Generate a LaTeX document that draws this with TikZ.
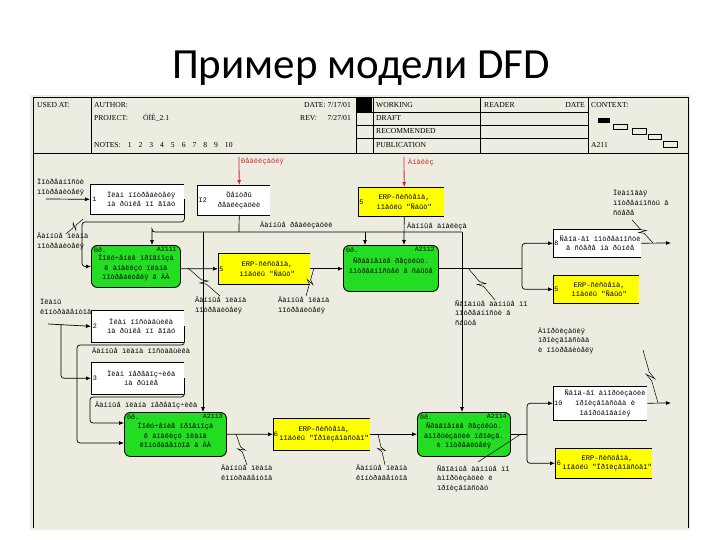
\documentclass[tikz,border=0pt]{standalone}
\usepackage{fontspec}
\setmainfont{Liberation Serif}
\newfontfamily\titlefont{Carlito}
\newfontfamily\monof{Liberation Mono}
\usetikzlibrary{arrows.meta,calc}
\definecolor{bgc}{HTML}{ECECE1}
\definecolor{procg}{HTML}{22DD22}
\definecolor{erpy}{HTML}{FFFF00}
\definecolor{flowred}{HTML}{D02828}
\newcommand\mtxt{\monof\fontsize{7.1}{9.6}\selectfont}
\newcommand\squig[2]{\draw[squigl] (#1) -- ($(#1)!0.42!(#2)$) -- ($(#1)!0.56!(#2)!3.5pt!90:(#2)$) -- ($(#1)!0.44!(#2)!3.5pt!-90:(#2)$) -- ($(#1)!0.58!(#2)$) -- (#2);}
\tikzset{
  hdr/.style={font=\fontsize{7.6}{9}\selectfont, inner sep=0pt, anchor=base west},
  lbl/.style={font=\mtxt, align=left, inner sep=0pt, anchor=north west},
  proc/.style={draw=black, line width=0.9pt, fill=procg, rounded corners=6pt, inner sep=0pt},
  ptag/.style={font=\monof\fontsize{6.6}{8}\selectfont, inner sep=0pt},
  ptxt/.style={font=\monof\fontsize{7}{9.4}\selectfont, align=center, inner sep=0pt},
  storeb/.style={fill=white, inner sep=0pt, font=\mtxt, align=center, anchor=north west},
  storey/.style={storeb, fill=erpy},
  numbx/.style={draw=black, line width=0.6pt, fill=white, inner sep=0pt, font=\monof\fontsize{6.8}{8}\selectfont, anchor=north west},
  numby/.style={numbx, fill=erpy},
  stl/.style={line width=0.7pt},
  flow/.style={draw=black, line width=0.7pt, rounded corners=3pt, -{Latex[length=5pt,width=4pt]}},
  plain/.style={draw=black, line width=0.7pt, rounded corners=3pt},
  redflow/.style={draw=flowred, line width=0.8pt, -{Latex[length=5pt,width=4pt]}},
  squigl/.style={draw=black, line width=0.5pt},
  frame/.style={draw=black, line width=0.8pt}
}
\begin{document}
\begin{tikzpicture}[x=1pt,y=-1pt]
\useasboundingbox (0,0) rectangle (720,540);
\fill[white] (0,0) rectangle (720,540);
\fill[bgc] (30,95) rectangle (690,530);
% title
\node[font=\titlefont\fontsize{43}{46}\selectfont, inner sep=0pt] (title) at (361,68) {Пример модели DFD};
% frame
\draw[frame] (33,528) -- (33,97) -- (688,97) -- (688,528);
\draw[frame] (33,153) -- (688,153);
\draw[frame] (91,97) -- (91,153);
\draw[frame] (356,97) -- (356,153);
\draw[frame] (373,97) -- (373,153);
\draw[frame] (480,97) -- (480,153);
\draw[frame] (588,97) -- (588,153);
\draw[frame] (356,112) -- (588,112) (356,125) -- (588,125) (356,138) -- (588,138);
\fill[black] (357,98) rectangle (372,112);
% header text
\node[hdr] (usedat) at (37,108) {USED AT:};
\node[hdr] (author) at (94,108) {AUTHOR:};
\node[hdr] (project) at (94,121) {PROJECT:};
\node[hdr] (projv) at (143,121) {ÓÏÈ\_2.1};
\node[hdr, anchor=base east] (date1) at (351,108) {DATE: 7/17/01};
\node[hdr] (rev) at (300,121) {REV:};
\node[hdr, anchor=base east] (revv) at (351,121) {7/27/01};
\node[hdr] (notes) at (94,148) {NOTES:\hspace{7pt}1\hspace{7pt}2\hspace{7pt}3\hspace{7pt}4\hspace{7pt}5\hspace{7pt}6\hspace{7pt}7\hspace{7pt}8\hspace{7pt}9\hspace{7pt}10};
\node[hdr] (working) at (376,108) {WORKING};
\node[hdr] (draft) at (376,121) {DRAFT};
\node[hdr] (recom) at (376,134) {RECOMMENDED};
\node[hdr] (publ) at (376,148) {PUBLICATION};
\node[hdr] (reader) at (484,108) {READER};
\node[hdr, anchor=base east] (date2) at (585,108) {DATE};
\node[hdr] (context) at (591,108) {CONTEXT:};
\node[hdr] (ctxnum) at (591,148) {A211};
\fill[black] (598,118) rectangle (610,123);
\draw[line width=0.6pt] (613,124) rectangle (627,129) (632,128) rectangle (646,134) (648,134) rectangle (661,139) (663,141) rectangle (677,147);

% ---------- stores ----------
\node[numbx, minimum width=8, minimum height=30] (s1n) at (90,184) {1};
\node[storeb, minimum width=86, minimum height=30] (s1) at (98,184) {Ïëàí ïîòðåáèòåëÿ\\íà ðûíêå ïî ãîäó};
\draw[stl] (s1.north east) -- (s1.north west) (s1.south west) -- (s1.south east);

\node[numbx, minimum width=11, minimum height=30] (si2n) at (197,185) {I2};
\node[storeb, minimum width=62, minimum height=30] (si2) at (208,185) {Öåíòðû\\ðåàëèçàöèè};
\draw[stl] (si2.north east) -- (si2.north west) (si2.south west) -- (si2.south east);

\node[numby, minimum width=6, minimum height=29] (s5an) at (358,187) {5};
\node[storey, minimum width=80, minimum height=29] (s5a) at (364,187) {ERP-ñèñòåìà,\\ìîäóëü "Ñáûò"};
\draw[stl] (s5a.north east) -- (s5a.north west) (s5a.south west) -- (s5a.south east);

\node[numby, minimum width=6, minimum height=31] (s5bn) at (218,253) {5};
\node[storey, minimum width=86, minimum height=31] (s5b) at (224,253) {ERP-ñèñòåìà,\\ìîäóëü "Ñáûò"};
\draw[stl] (s5b.north east) -- (s5b.north west) (s5b.south west) -- (s5b.south east);

\node[numbx, minimum width=6, minimum height=28] (s8n) at (553,229) {8};
\node[storeb, minimum width=82, minimum height=28] (s8) at (559,229) {Ñâîä-âî ïîòðåáíîñòè\\â ñôåðå íà ðûíêå};
\draw[stl] (s8.north east) -- (s8.north west) (s8.south west) -- (s8.south east);

\node[numby, minimum width=6, minimum height=28] (s5cn) at (553,275) {5};
\node[storey, minimum width=80, minimum height=28] (s5c) at (559,275) {ERP-ñèñòåìà,\\ìîäóëü "Ñáûò"};
\draw[stl] (s5c.north east) -- (s5c.north west) (s5c.south west) -- (s5c.south east);

\node[numbx, minimum width=7, minimum height=32] (s2n) at (91,310) {2};
\node[storeb, minimum width=86, minimum height=32] (s2) at (98,310) {Ïëàí ïîñòàâùèêà\\íà ðûíêå ïî ãîäó};
\draw[stl] (s2.north east) -- (s2.north west) (s2.south west) -- (s2.south east);

\node[numbx, minimum width=7, minimum height=32] (s3n) at (91,362) {3};
\node[storeb, minimum width=86, minimum height=32] (s3) at (98,362) {Ïëàí ïåðåâîç÷èêà\\íà ðûíêå};
\draw[stl] (s3.north east) -- (s3.north west) (s3.south west) -- (s3.south east);

\node[numbx, minimum width=10, minimum height=34] (s10n) at (553,386) {10};
\node[storeb, minimum width=84, minimum height=34] (s10) at (563,386) {Ñâîä-âî àìîðòèçàöèè\\ïðîèçâîäñòâà è\\îáîðóäîâàíèÿ};
\draw[stl] (s10.north east) -- (s10.north west) (s10.south west) -- (s10.south east);

\node[numby, minimum width=5, minimum height=32] (s6an) at (273,418) {6};
\node[storey, minimum width=92, minimum height=32] (s6a) at (278,418) {ERP-ñèñòåìà,\\ìîäóëü "Ïðîèçâîäñòâî"};
\draw[stl] (s6a.north east) -- (s6a.north west) (s6a.south west) -- (s6a.south east);

\node[numby, minimum width=7, minimum height=30] (s6bn) at (555,448) {6};
\node[storey, minimum width=90, minimum height=30] (s6b) at (562,448) {ERP-ñèñòåìà,\\ìîäóëü "Ïðîèçâîäñòâî"};
\draw[stl] (s6b.north east) -- (s6b.north west) (s6b.south west) -- (s6b.south east);

% ---------- processes ----------
\node[proc, minimum width=89, minimum height=42, anchor=north west] (g1) at (91,245) {};
\node[ptag, anchor=north west] (g1c) at ($(g1.north west)+(3,2)$) {0ð.};
\node[ptag, anchor=north east] (g1i) at ($(g1.north east)+(-4,2)$) {A2111};
\node[ptxt, anchor=north] (g1t) at ($(g1.north)+(0,10)$) {Ïîëó÷åíèå ïðîãíîçà\\ê àíàëèçó ïëàíà\\ïîòðåáèòåëÿ â ÀÀ};

\node[proc, minimum width=95, minimum height=46, anchor=north west] (g2) at (343,245) {};
\node[ptag, anchor=north west] (g2c) at ($(g2.north west)+(3,2)$) {0ð.};
\node[ptag, anchor=north east] (g2i) at ($(g2.north east)+(-4,2)$) {A2112};
\node[ptxt, anchor=north] (g2t) at ($(g2.north)+(0,13)$) {Ñðàâíåíèå ðåçóëüò.\\ïîòðåáíîñòåé â ñáûòå};

\node[proc, minimum width=102, minimum height=44, anchor=north west] (g3) at (124,412) {};
\node[ptag, anchor=north west] (g3c) at ($(g3.north west)+(3,2)$) {0ð.};
\node[ptag, anchor=north east] (g3i) at ($(g3.north east)+(-4,2)$) {A2113};
\node[ptxt, anchor=north] (g3t) at ($(g3.north)+(0,11)$) {Ïîëó÷åíèå ïðîãíîçà\\ê àíàëèçó ïëàíà\\êîíòðàãåíòîâ â ÀÀ};

\node[proc, minimum width=93, minimum height=44, anchor=north west] (g4) at (417,412) {};
\node[ptag, anchor=north west] (g4c) at ($(g4.north west)+(3,2)$) {0ð.};
\node[ptag, anchor=north east] (g4i) at ($(g4.north east)+(-4,2)$) {A2114};
\node[ptxt, anchor=north] (g4t) at ($(g4.north)+(0,11)$) {Ñðàâíåíèå ðåçóëüò.\\àìîðòèçàöèè ïðîèçâ.\\è ïîòðåáèòåëÿ};

% ---------- labels ----------
\node[font=\mtxt, text=flowred, inner sep=0pt, anchor=west] (rl1) at (241,162) {Ðåàëèçàöèÿ};
\node[font=\mtxt, text=flowred, inner sep=0pt, anchor=west] (rl2) at (408,162) {Àíàëèç};
\node[lbl] (lext1) at (37,179) {Ïîòðåáíîñòè\\ïîòðåáèòåëÿ};
\node[lbl] (la) at (37,233) {Äàííûå ïëàíà\\ïîòðåáèòåëÿ};
\node[lbl, anchor=west] (lbus) at (260,225) {Äàííûå ðåàëèçàöèè};
\node[lbl, anchor=west] (lan) at (407,226) {Äàííûå àíàëèçà};
\node[lbl] (lb) at (195,297) {Äàííûå ïëàíà\\ïîòðåáèòåëÿ};
\node[lbl] (lc) at (278,297) {Äàííûå ïëàíà\\ïîòðåáèòåëÿ};
\node[lbl] (ld) at (455,300) {Ñâîäíûå äàííûå ïî\\ïîòðåáíîñòè â\\ñáûòå};
\node[lbl] (le) at (613,190) {Ïëàíîâàÿ\\ïîòðåáíîñòü â\\ñôåðå};
\node[lbl] (lf) at (538,327) {Àìîðòèçàöèÿ\\ïðîèçâîäñòâà\\è ïîòðåáèòåëÿ};
\node[lbl] (lext2) at (40,299) {Ïëàíû\\êîíòðàãåíòîâ};
\node[lbl, anchor=west] (ls2) at (92,351) {Äàííûå ïëàíà ïîñòàâùèêà};
\node[lbl, anchor=west] (ls3) at (95,405) {Äàííûå ïëàíà ïåðåâîç÷èêà};
\node[lbl] (lg) at (221,465) {Äàííûå ïëàíà\\êîíòðàãåíòîâ};
\node[lbl] (lh) at (356,465) {Äàííûå ïëàíà\\êîíòðàãåíòîâ};
\node[lbl] (li) at (437,465) {Ñâîäíûå äàííûå ïî\\àìîðòèçàöèè è\\ïðîèçâîäñòâó};

% ---------- helper coordinates ----------
\coordinate (r1s) at (239,157);
\coordinate (r2s) at (404,157);
\coordinate (e1s) at (46,199);
\coordinate (e2s) at (48,324);
\coordinate (bus0) at (239,232);
\coordinate (busl) at (152,232);
\coordinate (g1top) at (152,245);
\coordinate (bus3) at (203,232);
\coordinate (g3top) at (203,412);
\coordinate (bus2) at (365,232);
\coordinate (g2top) at (365,245);
\coordinate (g2top2) at (404,245);
\coordinate (busr) at (462,232);
\coordinate (g4top) at (462,412);
\coordinate (j1) at (522,268);
\coordinate (j2) at (527,434);
\coordinate (o8) at (671,243);
\coordinate (o10) at (671,403);
\coordinate (br2) at (61,324);

% ---------- flows ----------
\draw[redflow] (r1s) -- (si2.north);
\draw[redflow] (r2s) -- (s5a.south |- s5a.north);
\draw[flow] (e1s) -- (s1n.west);
\draw[flow] (s1.east) |- (82,222) |- (g1.west);
\draw[plain] (si2.south) -- (bus0);
\draw[flow] (busr) -| (busl) -- (g1top);
\draw[flow] (bus3) -- (g3top);
\draw[flow] (bus2) -- (g2top);
\draw[flow] (busr) -- (g4top);
\draw[flow] (s5a.south) -- (g2top2);
\draw[flow] (g1.east |- s5b.west) -- (s5bn.west);
\draw[flow] (s5b.east) -- (g2.west |- s5b.east);
\draw[plain] (g2.east |- j1) -- (j1);
\draw[flow] (j1) |- (s8n.west);
\draw[flow] (j1) |- (s5cn.west);
\draw[flow] (s8.east) -- (o8);
\draw[flow] (e2s) -- (s2n.west);
\draw[flow] (br2) |- (s3n.west);
\draw[flow] (s2.east) |- (77,345) |- (g3.west |- 0,443);
\draw[flow] (s3.east) |- (90,397) |- (g3.west |- 0,423);
\draw[flow] (g3.east |- s6a.west) -- (s6an.west);
\draw[flow] (s6a.east) -- (g4.west |- s6a.east);
\draw[plain] (g4.east |- j2) -- (j2);
\draw[flow] (j2) |- (s10n.west);
\draw[flow] (j2) |- (s6bn.west);
\draw[flow] (s10.east) -- (o10);

% ---------- squiggles ----------
\coordinate (qa1) at (83,219); \coordinate (qa2) at (66,234);
\squig{qa1}{qa2}
\coordinate (qb1) at (188,268); \coordinate (qb2) at (220,296);
\squig{qb1}{qb2}
\coordinate (qc1) at (314,268); \coordinate (qc2) at (306,296);
\squig{qc1}{qc2}
\coordinate (qd1) at (468,268); \coordinate (qd2) at (495,300);
\squig{qd1}{qd2}
\coordinate (qe1) at (653,243); \coordinate (qe2) at (632,220);
\squig{qe1}{qe2}
\coordinate (qf1) at (658,403); \coordinate (qf2) at (643,350);
\squig{qf1}{qf2}
\coordinate (qg1) at (236,434); \coordinate (qg2) at (247,465);
\squig{qg1}{qg2}
\coordinate (qh1) at (378,434); \coordinate (qh2) at (385,465);
\squig{qh1}{qh2}
\draw[squigl] (521,434) -- (478,462);
\end{tikzpicture}
\end{document}
